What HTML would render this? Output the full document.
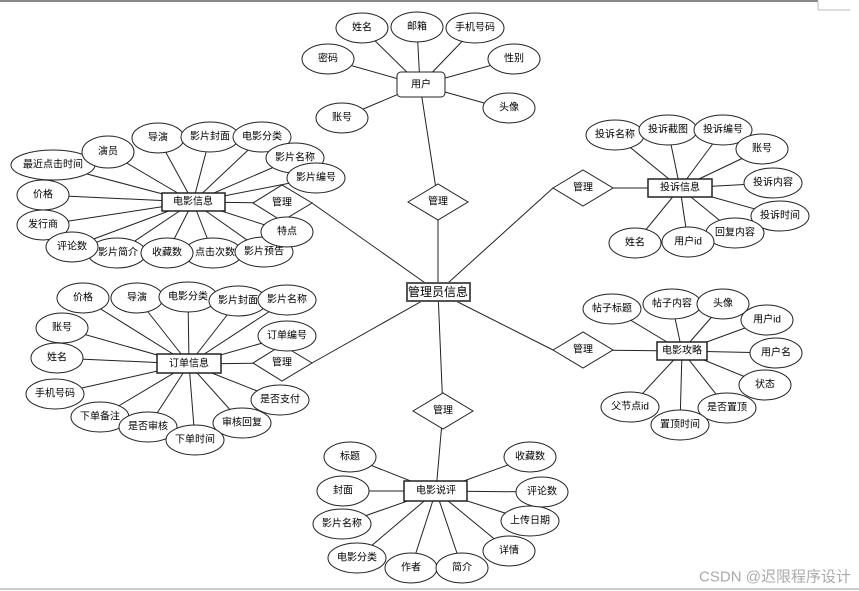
<!DOCTYPE html>
<html><head><meta charset="utf-8"><style>
html,body{margin:0;padding:0;background:#fff;width:859px;height:591px;overflow:hidden}
svg text{font-family:"Liberation Sans","Noto Sans CJK SC",sans-serif;font-size:10px;fill:#000;text-anchor:middle;dominant-baseline:central}
</style></head><body>
<svg width="859" height="591" viewBox="0 0 859 591" xmlns="http://www.w3.org/2000/svg">
<line x1="0" y1="1" x2="818" y2="1" stroke="#888" stroke-width="2"/>
<polyline points="818,1 818,10 850,10" fill="none" stroke="#bbb" stroke-width="1"/>
<line x1="0" y1="589" x2="859" y2="589" stroke="#ccc" stroke-width="2"/>
<g stroke="#222" stroke-width="1" fill="none">
<line x1="420" y1="85" x2="362" y2="28"/><line x1="420" y1="85" x2="417" y2="27"/><line x1="420" y1="85" x2="475" y2="28"/>
<line x1="420" y1="85" x2="514" y2="59"/><line x1="420" y1="85" x2="502" y2="108"/><line x1="420" y1="85" x2="342" y2="118"/><line x1="420" y1="85" x2="328" y2="59"/>
<line x1="420" y1="85" x2="438" y2="202"/><line x1="438" y1="202" x2="438" y2="292"/>
<line x1="438" y1="292" x2="443" y2="411"/><line x1="443" y1="411" x2="436" y2="491"/>
<line x1="438" y1="292" x2="312" y2="203"/><line x1="438" y1="292" x2="312" y2="363"/>
<line x1="438" y1="292" x2="553" y2="188"/><line x1="438" y1="292" x2="553" y2="350"/>
<g>
<line x1="193" y1="202" x2="53" y2="165"/><line x1="193" y1="202" x2="108" y2="152"/><line x1="193" y1="202" x2="158" y2="138"/>
<line x1="193" y1="202" x2="210" y2="137"/><line x1="193" y1="202" x2="262" y2="137"/><line x1="193" y1="202" x2="295" y2="158"/>
<line x1="193" y1="202" x2="316" y2="178"/><line x1="193" y1="202" x2="43" y2="195"/><line x1="193" y1="202" x2="43" y2="225"/>
<line x1="193" y1="202" x2="72" y2="247"/><line x1="193" y1="202" x2="117" y2="253"/><line x1="193" y1="202" x2="167" y2="253"/>
<line x1="193" y1="202" x2="213" y2="253"/><line x1="193" y1="202" x2="264" y2="252"/><line x1="193" y1="202" x2="287" y2="232"/>
<line x1="193" y1="202" x2="282" y2="203"/>
</g>
<g>
<line x1="189" y1="364" x2="83" y2="298"/><line x1="189" y1="364" x2="137" y2="298"/><line x1="189" y1="364" x2="188" y2="297"/>
<line x1="189" y1="364" x2="238" y2="301"/><line x1="189" y1="364" x2="287" y2="300"/><line x1="189" y1="364" x2="287" y2="336"/>
<line x1="189" y1="364" x2="62" y2="328"/><line x1="189" y1="364" x2="57" y2="358"/><line x1="189" y1="364" x2="55" y2="394"/>
<line x1="189" y1="364" x2="100" y2="417"/><line x1="189" y1="364" x2="148" y2="427"/><line x1="189" y1="364" x2="195" y2="440"/>
<line x1="189" y1="364" x2="242" y2="423"/><line x1="189" y1="364" x2="280" y2="400"/><line x1="189" y1="364" x2="282" y2="363"/>
</g>
<g>
<line x1="680" y1="188" x2="615" y2="135"/><line x1="680" y1="188" x2="668" y2="130"/><line x1="680" y1="188" x2="723" y2="130"/>
<line x1="680" y1="188" x2="762" y2="149"/><line x1="680" y1="188" x2="773" y2="183"/><line x1="680" y1="188" x2="780" y2="216"/>
<line x1="680" y1="188" x2="735" y2="233"/><line x1="680" y1="188" x2="688" y2="242"/><line x1="680" y1="188" x2="635" y2="243"/>
<line x1="680" y1="188" x2="583" y2="188"/>
</g>
<g>
<line x1="682" y1="351" x2="612" y2="309"/><line x1="682" y1="351" x2="672" y2="304"/><line x1="682" y1="351" x2="723" y2="304"/>
<line x1="682" y1="351" x2="767" y2="320"/><line x1="682" y1="351" x2="776" y2="353"/><line x1="682" y1="351" x2="765" y2="385"/>
<line x1="682" y1="351" x2="727" y2="408"/><line x1="682" y1="351" x2="680" y2="425"/><line x1="682" y1="351" x2="630" y2="407"/>
<line x1="682" y1="351" x2="583" y2="350"/>
</g>
<g>
<line x1="436" y1="491" x2="350" y2="457"/><line x1="436" y1="491" x2="343" y2="491"/><line x1="436" y1="491" x2="342" y2="524"/>
<line x1="436" y1="491" x2="357" y2="558"/><line x1="436" y1="491" x2="411" y2="568"/><line x1="436" y1="491" x2="462" y2="568"/>
<line x1="436" y1="491" x2="509" y2="551"/><line x1="436" y1="491" x2="530" y2="521"/><line x1="436" y1="491" x2="542" y2="492"/>
<line x1="436" y1="491" x2="530" y2="457"/>
</g>
</g>
<g stroke="#222" stroke-width="1" fill="#fff">
<polygon points="408,202 438,184 468,202 438,220"/>
<polygon points="413,411 443,393 473,411 443,429"/>
<polygon points="253,203 282,185 312,203 282,221"/>
<polygon points="253,363 282,345 312,363 282,381"/>
<polygon points="553,188 583,170 613,188 583,206"/>
<polygon points="553,350 583,332 613,350 583,368"/>
<ellipse cx="362" cy="28" rx="26" ry="15"/><ellipse cx="417" cy="27" rx="26" ry="15"/><ellipse cx="475" cy="28" rx="29" ry="15"/>
<ellipse cx="514" cy="59" rx="26" ry="15"/><ellipse cx="509" cy="108" rx="26" ry="15"/><ellipse cx="342" cy="118" rx="26" ry="15"/><ellipse cx="328" cy="59" rx="26" ry="15"/>
<ellipse cx="53" cy="165" rx="42" ry="15"/><ellipse cx="108" cy="152" rx="26" ry="16"/><ellipse cx="158" cy="138" rx="26" ry="15"/>
<ellipse cx="210" cy="137" rx="29" ry="15"/><ellipse cx="262" cy="137" rx="29" ry="15"/><ellipse cx="295" cy="158" rx="29" ry="15"/>
<ellipse cx="316" cy="178" rx="29" ry="15"/><ellipse cx="43" cy="195" rx="26" ry="15"/><ellipse cx="43" cy="225" rx="26" ry="15"/>
<ellipse cx="117" cy="253" rx="29" ry="15"/><ellipse cx="72" cy="247" rx="26" ry="15"/>
<ellipse cx="213" cy="253" rx="29" ry="15"/><ellipse cx="167" cy="253" rx="26" ry="15"/><ellipse cx="264" cy="252" rx="29" ry="15"/><ellipse cx="287" cy="232" rx="26" ry="15"/>
<ellipse cx="83" cy="298" rx="26" ry="15"/><ellipse cx="137" cy="298" rx="26" ry="15"/><ellipse cx="188" cy="297" rx="29" ry="15"/>
<ellipse cx="238" cy="301" rx="29" ry="15"/><ellipse cx="287" cy="300" rx="29" ry="15"/><ellipse cx="287" cy="336" rx="29" ry="15"/>
<ellipse cx="62" cy="328" rx="26" ry="15"/><ellipse cx="57" cy="358" rx="26" ry="15"/><ellipse cx="55" cy="394" rx="29" ry="15"/>
<ellipse cx="100" cy="417" rx="29" ry="15"/><ellipse cx="148" cy="427" rx="29" ry="15"/><ellipse cx="242" cy="423" rx="29" ry="15"/>
<ellipse cx="195" cy="440" rx="29" ry="15"/><ellipse cx="280" cy="400" rx="29" ry="15"/>
<ellipse cx="615" cy="135" rx="29" ry="15"/><ellipse cx="668" cy="130" rx="29" ry="15"/><ellipse cx="723" cy="130" rx="29" ry="15"/>
<ellipse cx="762" cy="149" rx="26" ry="15"/><ellipse cx="773" cy="183" rx="29" ry="15"/><ellipse cx="780" cy="216" rx="29" ry="15"/>
<ellipse cx="735" cy="233" rx="29" ry="15"/><ellipse cx="688" cy="242" rx="26" ry="15"/><ellipse cx="635" cy="243" rx="26" ry="15"/>
<ellipse cx="612" cy="309" rx="29" ry="15"/><ellipse cx="672" cy="304" rx="29" ry="15"/><ellipse cx="723" cy="304" rx="26" ry="15"/>
<ellipse cx="767" cy="320" rx="26" ry="15"/><ellipse cx="776" cy="353" rx="26" ry="15"/><ellipse cx="765" cy="385" rx="26" ry="15"/>
<ellipse cx="727" cy="408" rx="29" ry="15"/><ellipse cx="630" cy="407" rx="29" ry="15"/><ellipse cx="680" cy="425" rx="29" ry="15"/>
<ellipse cx="350" cy="457" rx="26" ry="15"/><ellipse cx="343" cy="491" rx="26" ry="15"/><ellipse cx="342" cy="524" rx="29" ry="15"/>
<ellipse cx="357" cy="558" rx="29" ry="15"/><ellipse cx="411" cy="568" rx="26" ry="15"/><ellipse cx="462" cy="568" rx="26" ry="15"/>
<ellipse cx="509" cy="551" rx="26" ry="15"/><ellipse cx="530" cy="521" rx="29" ry="15"/><ellipse cx="542" cy="492" rx="26" ry="15"/>
<ellipse cx="530" cy="457" rx="26" ry="15"/>
<rect x="397" y="72" width="48" height="25" rx="4"/>
<rect x="407" y="283" width="63" height="18" stroke-width="2" stroke="#555"/>
<rect x="162" y="193" width="63" height="18" stroke-width="1.5"/>
<rect x="157" y="354" width="64" height="19" stroke-width="1.5"/>
<rect x="648" y="179" width="64" height="18" stroke-width="1.5"/>
<rect x="657" y="342" width="50" height="18" stroke-width="1.5"/>
<rect x="404" y="481" width="63" height="20" stroke-width="1.5"/>
</g>
<g>
<text x="362" y="28">姓名</text><text x="417" y="27">邮箱</text><text x="475" y="28">手机号码</text>
<text x="514" y="59">性别</text><text x="509" y="108">头像</text><text x="342" y="118">账号</text><text x="328" y="59">密码</text>
<text x="421" y="85">用户</text>
<text x="438" y="292" style="font-size:12px">管理员信息</text>
<text x="438" y="202">管理</text><text x="443" y="411">管理</text><text x="282" y="203">管理</text><text x="282" y="363">管理</text>
<text x="583" y="188">管理</text><text x="583" y="350">管理</text>
<text x="193" y="202">电影信息</text>
<text x="53" y="165">最近点击时间</text><text x="108" y="152">演员</text><text x="158" y="138">导演</text>
<text x="210" y="137">影片封面</text><text x="262" y="137">电影分类</text><text x="295" y="158">影片名称</text>
<text x="316" y="178">影片编号</text><text x="43" y="195">价格</text><text x="43" y="225">发行商</text>
<text x="118" y="253">影片简介</text><text x="72" y="247">评论数</text><text x="167" y="253">收藏数</text>
<text x="215" y="253">点击次数</text><text x="264" y="252">影片预告</text><text x="287" y="232">特点</text>
<text x="189" y="364">订单信息</text>
<text x="83" y="298">价格</text><text x="137" y="298">导演</text><text x="188" y="297">电影分类</text>
<text x="238" y="301">影片封面</text><text x="287" y="300">影片名称</text><text x="287" y="336">订单编号</text>
<text x="62" y="328">账号</text><text x="57" y="358">姓名</text><text x="55" y="394">手机号码</text>
<text x="100" y="417">下单备注</text><text x="148" y="427">是否审核</text><text x="242" y="423">审核回复</text>
<text x="195" y="440">下单时间</text><text x="280" y="400">是否支付</text>
<text x="680" y="188">投诉信息</text>
<text x="615" y="135">投诉名称</text><text x="668" y="130">投诉截图</text><text x="723" y="130">投诉编号</text>
<text x="762" y="149">账号</text><text x="773" y="183">投诉内容</text><text x="780" y="216">投诉时间</text>
<text x="735" y="233">回复内容</text><text x="688" y="242">用户id</text><text x="635" y="243">姓名</text>
<text x="682" y="351">电影攻略</text>
<text x="612" y="309">帖子标题</text><text x="672" y="304">帖子内容</text><text x="723" y="304">头像</text>
<text x="767" y="320">用户id</text><text x="776" y="353">用户名</text><text x="765" y="385">状态</text>
<text x="727" y="408">是否置顶</text><text x="630" y="407">父节点id</text><text x="680" y="425">置顶时间</text>
<text x="436" y="491">电影说评</text>
<text x="350" y="457">标题</text><text x="343" y="491">封面</text><text x="342" y="524">影片名称</text>
<text x="357" y="558">电影分类</text><text x="411" y="568">作者</text><text x="462" y="568">简介</text>
<text x="509" y="551">详情</text><text x="530" y="521">上传日期</text><text x="542" y="492">评论数</text>
<text x="530" y="457">收藏数</text>
<text x="775" y="577" style="font-size:15px;fill:#aaa">CSDN @迟限程序设计</text>
</g>
</svg>
</body></html>
